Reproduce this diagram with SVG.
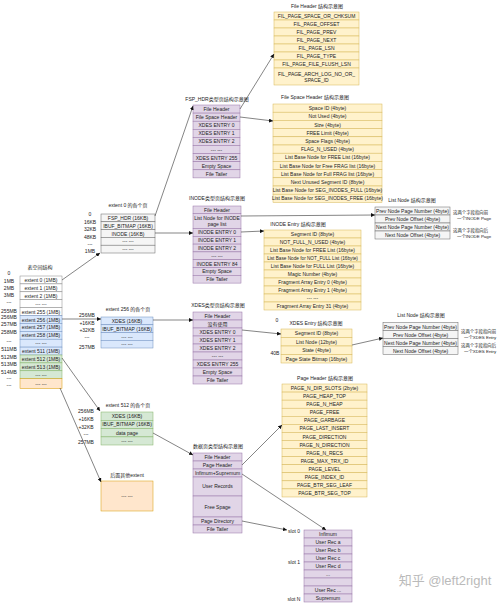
<svg xmlns="http://www.w3.org/2000/svg" width="500" height="604" viewBox="0 0 500 604">
<style>
text{font-family:"Liberation Sans","Noto Sans CJK SC",sans-serif;font-size:5px;fill:#222;text-anchor:middle;dominant-baseline:central}
.l{text-anchor:start;font-size:4.4px}
rect{stroke-width:0.5}
.y{fill:#fff2cc;stroke:#d6b656}
.p{fill:#e1d5e7;stroke:#9673a6}
.g{fill:#f5f5f5;stroke:#666}
.w{fill:#ffffff;stroke:#888}
.b{fill:#dae8fc;stroke:#6c8ebf}
.gr{fill:#d5e8d4;stroke:#82b366}
.o{fill:#ffe6cc;stroke:#d79b00}
.c path{fill:none;stroke:#333;stroke-width:0.6;marker-end:url(#a)}
</style>
<defs>
<marker id="a" viewBox="0 0 6 6" refX="6" refY="3" markerWidth="4" markerHeight="4" orient="auto" markerUnits="userSpaceOnUse"><path d="M0,0 L6,3 L0,6 z" fill="#111"/></marker>
</defs>
<rect width="500" height="604" fill="#ffffff"/>

<g id="file-header">
<text x="317" y="6">File Header 结构示意图</text>
<rect class="y" x="274" y="12" width="85" height="8"/><text x="316.5" y="16">FIL_PAGE_SPACE_OR_CHKSUM</text>
<rect class="y" x="274" y="20" width="85" height="8"/><text x="316.5" y="24">FIL_PAGE_OFFSET</text>
<rect class="y" x="274" y="28" width="85" height="8"/><text x="316.5" y="32">FIL_PAGE_PREV</text>
<rect class="y" x="274" y="36" width="85" height="8"/><text x="316.5" y="40">FIL_PAGE_NEXT</text>
<rect class="y" x="274" y="44" width="85" height="8"/><text x="316.5" y="48">FIL_PAGE_LSN</text>
<rect class="y" x="274" y="52" width="85" height="8"/><text x="316.5" y="56">FIL_PAGE_TYPE</text>
<rect class="y" x="274" y="60" width="85" height="8"/><text x="316.5" y="64">FIL_PAGE_FILE_FLUSH_LSN</text>
<rect class="y" x="274" y="68" width="85" height="17"/><text x="316.5" y="73.5">FIL_PAGE_ARCH_LOG_NO_OR_</text><text x="316.5" y="79.5">SPACE_ID</text>
</g>

<g id="file-space-header">
<text x="315" y="97">File Space Header 结构示意图</text>
<rect class="y" x="273" y="104" width="109" height="8.2"/><text x="327.5" y="108.1">Space ID (4byte)</text>
<rect class="y" x="273" y="112.2" width="109" height="8.2"/><text x="327.5" y="116.3">Not Used (4byte)</text>
<rect class="y" x="273" y="120.4" width="109" height="8.2"/><text x="327.5" y="124.5">Size (4byte)</text>
<rect class="y" x="273" y="128.6" width="109" height="8.2"/><text x="327.5" y="132.7">FREE Limit (4byte)</text>
<rect class="y" x="273" y="136.8" width="109" height="8.2"/><text x="327.5" y="140.9">Space Flags (4byte)</text>
<rect class="y" x="273" y="145" width="109" height="8.2"/><text x="327.5" y="149.1">FLAG_N_USED (4byte)</text>
<rect class="y" x="273" y="153.2" width="109" height="8.2"/><text x="327.5" y="157.3">List Base Node for FREE List (16byte)</text>
<rect class="y" x="273" y="161.4" width="109" height="8.2"/><text x="327.5" y="165.5">List Base Node for Free FRAG list (16byte)</text>
<rect class="y" x="273" y="169.6" width="109" height="8.2"/><text x="327.5" y="173.7">List Base Node for Full FRAG list (16byte)</text>
<rect class="y" x="273" y="177.8" width="109" height="8.2"/><text x="327.5" y="181.9">Next Unused Segment ID (8byte)</text>
<rect class="y" x="273" y="186" width="109" height="8.2"/><text x="327.5" y="190.1">List Base Node for SEG_INODES_FULL (16byte)</text>
<rect class="y" x="273" y="194.2" width="109" height="8.2"/><text x="327.5" y="198.3">List Base Node for SEG_INODES_FREE (16byte)</text>
</g>

<g id="fsp-hdr-page">
<text x="217" y="99">FSP_HDR类型页结构示意图</text>
<rect class="p" x="193" y="105" width="47" height="8.1"/><text x="216.5" y="109.05">File  Header</text>
<rect class="p" x="193" y="113.1" width="47" height="8.1"/><text x="216.5" y="117.15">File Space Header</text>
<rect class="p" x="193" y="121.2" width="47" height="8.1"/><text x="216.5" y="125.25">XDES ENTRY 0</text>
<rect class="p" x="193" y="129.3" width="47" height="8.1"/><text x="216.5" y="133.35">XDES ENTRY 1</text>
<rect class="p" x="193" y="137.4" width="47" height="8.1"/><text x="216.5" y="141.45">XDES ENTRY 2</text>
<rect class="p" x="193" y="145.5" width="47" height="8.1"/><text x="216.5" y="149.55">--- ---</text>
<rect class="p" x="193" y="153.6" width="47" height="8.1"/><text x="216.5" y="157.65">XDES ENTRY 255</text>
<rect class="p" x="193" y="161.7" width="47" height="8.1"/><text x="216.5" y="165.75">Empty Space</text>
<rect class="p" x="193" y="169.8" width="47" height="8.1"/><text x="216.5" y="173.85">File  Tailer</text>
</g>

<g id="inode-page">
<text x="217" y="198">INODE类型页结构示意图</text>
<rect class="p" x="193" y="206" width="48" height="7.5"/><text x="217" y="209.75">File  Header</text>
<rect class="p" x="193" y="213.5" width="48" height="15"/><text x="217" y="218">List Node for INODE</text><text x="217" y="224">page list</text>
<rect class="p" x="193" y="228.5" width="48" height="7.8"/><text x="217" y="232.4">INODE ENTRY 0</text>
<rect class="p" x="193" y="236.3" width="48" height="7.8"/><text x="217" y="240.2">INODE ENTRY 1</text>
<rect class="p" x="193" y="244.1" width="48" height="7.8"/><text x="217" y="248">INODE ENTRY 2</text>
<rect class="p" x="193" y="251.9" width="48" height="7.8"/><text x="217" y="255.8">--- ---</text>
<rect class="p" x="193" y="259.7" width="48" height="7.8"/><text x="217" y="263.6">INODE ENTRY 84</text>
<rect class="p" x="193" y="267.5" width="48" height="7.8"/><text x="217" y="271.4">Empty Space</text>
<rect class="p" x="193" y="275.3" width="48" height="7.8"/><text x="217" y="279.2">File  Tailer</text>
</g>

<g id="inode-entry">
<text x="298" y="224">INODE Entry 结构示意图</text>
<rect class="y" x="264" y="230" width="97" height="8"/><text x="312.5" y="234">Segment ID (8byte)</text>
<rect class="y" x="264" y="238" width="97" height="8"/><text x="312.5" y="242">NOT_FULL_N_USED (4byte)</text>
<rect class="y" x="264" y="246" width="97" height="8"/><text x="312.5" y="250">List Base Node for FREE List (16byte)</text>
<rect class="y" x="264" y="254" width="97" height="8"/><text x="312.5" y="258" style="font-size:4.7px">List Base Node for NOT_FULL List (16byte)</text>
<rect class="y" x="264" y="262" width="97" height="8"/><text x="312.5" y="266">List Base Node for FULL List (16byte)</text>
<rect class="y" x="264" y="270" width="97" height="8"/><text x="312.5" y="274">Magic Number (4byte)</text>
<rect class="y" x="264" y="278" width="97" height="8"/><text x="312.5" y="282">Fragment Array Entry 0 (4byte)</text>
<rect class="y" x="264" y="286" width="97" height="8"/><text x="312.5" y="290">Fragment Array Entry 1 (4byte)</text>
<rect class="y" x="264" y="294" width="97" height="8"/><text x="312.5" y="298">--- ---</text>
<rect class="y" x="264" y="302" width="97" height="8"/><text x="312.5" y="306">Fragment Array Entry 31 (4byte)</text>
</g>

<g id="inode-list-node">
<text x="412" y="200">List Node 结构示意图</text>
<rect class="g" x="375" y="207" width="75" height="8"/><text x="412.5" y="211">Prev Node Page Number (4byte)</text>
<rect class="g" x="375" y="215" width="75" height="8"/><text x="412.5" y="219">Prev Node Offset (4byte)</text>
<rect class="g" x="375" y="223" width="75" height="8"/><text x="412.5" y="227">Next Node Page Number (4byte)</text>
<rect class="g" x="375" y="231" width="75" height="8"/><text x="412.5" y="235">Next Node Offset (4byte)</text>
<text class="l" x="453" y="212">这两个字段指向前</text><text class="l" x="457" y="218">一个INODE Page</text>
<text class="l" x="453" y="230">这两个字段指向后</text><text class="l" x="457" y="236">一个INODE Page</text>
</g>

<g id="extent0-pages">
<text x="128" y="205">extent 0 的各个页</text>
<rect class="g" x="101" y="214" width="54" height="7.8"/><text x="128" y="217.9">FSP_HDR (16KB)</text>
<rect class="g" x="101" y="221.8" width="54" height="7.8"/><text x="128" y="225.7">IBUF_BITMAP (16KB)</text>
<rect class="g" x="101" y="229.6" width="54" height="7.8"/><text x="128" y="233.5">INODE (16KB)</text>
<rect class="g" x="101" y="237.4" width="54" height="7.8"/><text x="128" y="241.3">--- ---</text>
<rect class="g" x="101" y="245.2" width="54" height="7.8"/><text x="128" y="249.1">--- ---</text>
<text x="90" y="214">0</text><text x="90" y="222">16KB</text><text x="90" y="229">32KB</text><text x="90" y="237">48KB</text><text x="90" y="244">---</text><text x="90" y="251">1MB</text>
</g>

<g id="tablespace">
<text x="40" y="267">表空间结构</text>
<rect class="w" x="20" y="276" width="42" height="7.9"/><text x="41" y="280">extent 0 (1MB)</text>
<rect class="w" x="20" y="283.9" width="42" height="7.9"/><text x="41" y="287.9">extent 1 (1MB)</text>
<rect class="w" x="20" y="291.8" width="42" height="7.9"/><text x="41" y="295.8">extent 2 (1MB)</text>
<rect class="w" x="20" y="299.7" width="42" height="7.9"/><text x="41" y="303.7">--- ---</text>
<rect class="w" x="20" y="307.6" width="42" height="7.9"/><text x="41" y="311.6">extent 255 (1MB)</text>
<rect class="b" x="20" y="315.5" width="42" height="7.9"/><text x="41" y="319.5">extent 256 (1MB)</text>
<rect class="b" x="20" y="323.4" width="42" height="7.9"/><text x="41" y="327.4">extent 257 (1MB)</text>
<rect class="b" x="20" y="331.3" width="42" height="7.9"/><text x="41" y="335.3">extent 258 (1MB)</text>
<rect class="b" x="20" y="339.2" width="42" height="7.9"/><text x="41" y="343.2">--- ---</text>
<rect class="b" x="20" y="347.1" width="42" height="7.9"/><text x="41" y="351.1">extent 511 (1MB)</text>
<rect class="gr" x="20" y="355" width="42" height="7.9"/><text x="41" y="359">extent 512 (1MB)</text>
<rect class="gr" x="20" y="362.9" width="42" height="7.9"/><text x="41" y="366.9">extent 513 (1MB)</text>
<rect class="gr" x="20" y="370.8" width="42" height="7.9"/><text x="41" y="374.8">--- ---</text>
<rect class="o" x="20" y="378.7" width="42" height="10"/><text x="41" y="383.7">--- ---</text>
<text x="9" y="273">0</text><text x="9" y="281">1MB</text><text x="9" y="288">2MB</text><text x="9" y="295">3MB</text><text x="9" y="302">---</text>
<text x="9" y="311">255MB</text><text x="9" y="317">256MB</text><text x="9" y="324">257MB</text><text x="9" y="332">258MB</text><text x="9" y="341">---</text>
<text x="9" y="349">511MB</text><text x="9" y="357">512MB</text><text x="9" y="364">513MB</text><text x="9" y="372">514MB</text><text x="9" y="378">---</text><text x="9" y="385">---</text>
</g>

<g id="extent256-pages">
<text x="128" y="309">extent 256 的各个页</text>
<rect class="b" x="101" y="317" width="52" height="7.8"/><text x="127" y="320.9">XDES (16KB)</text>
<rect class="b" x="101" y="324.8" width="52" height="7.8"/><text x="127" y="328.7">IBUF_BITMAP (16KB)</text>
<rect class="b" x="101" y="332.6" width="52" height="7.7"/><text x="127" y="336.5">--- ---</text>
<rect class="b" x="101" y="340.3" width="52" height="7.7"/><text x="127" y="344.2">--- ---</text>
<text x="87" y="315">256MB</text><text x="87" y="323">+16KB</text><text x="87" y="330">+32KB</text><text x="87" y="337">---</text><text x="87" y="347">257MB</text>
</g>

<g id="xdes-page">
<text x="218" y="305">XDES类型页结构示意图</text>
<rect class="p" x="193" y="312" width="49" height="8"/><text x="217.5" y="316">File  Header</text>
<rect class="p" x="193" y="320" width="49" height="8"/><text x="217.5" y="324">没有使用</text>
<rect class="p" x="193" y="328" width="49" height="8"/><text x="217.5" y="332">XDES ENTRY 0</text>
<rect class="p" x="193" y="336" width="49" height="8"/><text x="217.5" y="340">XDES ENTRY 1</text>
<rect class="p" x="193" y="344" width="49" height="8"/><text x="217.5" y="348">XDES ENTRY 2</text>
<rect class="p" x="193" y="352" width="49" height="8"/><text x="217.5" y="356">--- ---</text>
<rect class="p" x="193" y="360" width="49" height="8"/><text x="217.5" y="364">XDES ENTRY 255</text>
<rect class="p" x="193" y="368" width="49" height="8"/><text x="217.5" y="372">Empty Space</text>
<rect class="p" x="193" y="376" width="49" height="8"/><text x="217.5" y="380">File  Tailer</text>
</g>

<g id="xdes-entry">
<text x="316" y="323">XDES Entry 结构示意图</text>
<rect class="y" x="281" y="329" width="71" height="8.5"/><text x="316.5" y="333.25">Segment ID (8byte)</text>
<rect class="y" x="281" y="337.5" width="71" height="8.5"/><text x="316.5" y="341.75">List  Node  (12byte)</text>
<rect class="y" x="281" y="346" width="71" height="8.5"/><text x="316.5" y="350.25">State (4byte)</text>
<rect class="y" x="281" y="354.5" width="71" height="8.5"/><text x="316.5" y="358.75">Page State Bitmap (16byte)</text>
<text x="277" y="320">0</text><text x="275" y="353">40B</text>
</g>

<g id="xdes-list-node">
<text x="421" y="315">List Node 结构示意图</text>
<rect class="g" x="383" y="322.5" width="75" height="8"/><text x="420.5" y="326.5">Prev Node Page Number (4byte)</text>
<rect class="g" x="383" y="330.5" width="75" height="8"/><text x="420.5" y="334.5">Prev Node Offset (4byte)</text>
<rect class="g" x="383" y="338.5" width="75" height="8"/><text x="420.5" y="342.5">Next Node Page Number (4byte)</text>
<rect class="g" x="383" y="346.5" width="75" height="8"/><text x="420.5" y="350.5">Next Node Offset (4byte)</text>
<text class="l" x="461" y="331">这两个字段指向前</text><text class="l" x="464" y="337">一个XDES Entry</text>
<text class="l" x="461" y="345">这两个字段指向后</text><text class="l" x="464" y="351">一个XDES Entry</text>
</g>

<g id="extent512-pages">
<text x="128" y="405">extent 512 的各个页</text>
<rect class="gr" x="101" y="412" width="52" height="8.3"/><text x="127" y="416.15">XDES (16KB)</text>
<rect class="gr" x="101" y="420.3" width="52" height="8.3"/><text x="127" y="424.45">IBUF_BITMAP (16KB)</text>
<rect class="gr" x="101" y="428.6" width="52" height="8.3"/><text x="127" y="432.75">data page</text>
<rect class="gr" x="101" y="436.9" width="52" height="8.1"/><text x="127" y="440.95">--- ---</text>
<text x="86" y="411">256MB</text><text x="86" y="419">+16KB</text><text x="86" y="427">+32KB</text><text x="86" y="434">---</text><text x="86" y="442">257MB</text>
</g>

<g id="other-extents">
<text x="127" y="475">后面其他extent</text>
<rect class="o" x="101" y="481" width="52" height="30"/><text x="127" y="496">--- ---</text>
</g>

<g id="index-page">
<text x="218" y="446">数据页类型结构示意图</text>
<rect class="p" x="193" y="453" width="49" height="8"/><text x="217.5" y="457">File  Header</text>
<rect class="p" x="193" y="461" width="49" height="8"/><text x="217.5" y="465">Page Header</text>
<rect class="p" x="193" y="469" width="49" height="8"/><text x="217.5" y="473">Infimum+Supremum</text>
<rect class="p" x="193" y="477" width="49" height="19"/><text x="217.5" y="486">User Records</text>
<rect class="p" x="193" y="496" width="49" height="21"/><text x="217.5" y="506.5">Free Spage</text>
<rect class="p" x="193" y="517" width="49" height="8"/><text x="217.5" y="521">Page Directory</text>
<rect class="p" x="193" y="525" width="49" height="8"/><text x="217.5" y="529">File  Tailer</text>
</g>

<g id="page-header">
<text x="325" y="378">Page Header 结构示意图</text>
<rect class="y" x="282" y="384" width="85" height="8.07"/><text x="324.5" y="388">PAGE_N_DIR_SLOTS (2byte)</text>
<rect class="y" x="282" y="392.07" width="85" height="8.07"/><text x="324.5" y="396.1">PAGE_HEAP_TOP</text>
<rect class="y" x="282" y="400.14" width="85" height="8.07"/><text x="324.5" y="404.2">PAGE_N_HEAP</text>
<rect class="y" x="282" y="408.21" width="85" height="8.07"/><text x="324.5" y="412.2">PAGE_FREE</text>
<rect class="y" x="282" y="416.28" width="85" height="8.07"/><text x="324.5" y="420.3">PAGE_GARBAGE</text>
<rect class="y" x="282" y="424.35" width="85" height="8.07"/><text x="324.5" y="428.4">PAGE_LAST_INSERT</text>
<rect class="y" x="282" y="432.42" width="85" height="8.07"/><text x="324.5" y="436.5">PAGE_DIRECTION</text>
<rect class="y" x="282" y="440.49" width="85" height="8.07"/><text x="324.5" y="444.5">PAGE_N_DIRECTION</text>
<rect class="y" x="282" y="448.56" width="85" height="8.07"/><text x="324.5" y="452.6">PAGE_N_RECS</text>
<rect class="y" x="282" y="456.63" width="85" height="8.07"/><text x="324.5" y="460.7">PAGE_MAX_TRX_ID</text>
<rect class="y" x="282" y="464.7" width="85" height="8.07"/><text x="324.5" y="468.7">PAGE_LEVEL</text>
<rect class="y" x="282" y="472.77" width="85" height="8.07"/><text x="324.5" y="476.8">PAGE_INDEX_ID</text>
<rect class="y" x="282" y="480.84" width="85" height="8.07"/><text x="324.5" y="484.9">PAGE_BTR_SEG_LEAF</text>
<rect class="y" x="282" y="488.91" width="85" height="8.07"/><text x="324.5" y="492.9">PAGE_BTR_SEG_TOP</text>
</g>

<g id="user-records">
<rect class="p" x="304" y="530" width="48" height="8"/><text x="328" y="534">Infimum</text>
<rect class="p" x="304" y="538" width="48" height="8"/><text x="328" y="542">User Rec a</text>
<rect class="p" x="304" y="546" width="48" height="8"/><text x="328" y="550">User Rec b</text>
<rect class="p" x="304" y="554" width="48" height="8"/><text x="328" y="558">User Rec c</text>
<rect class="p" x="304" y="562" width="48" height="8"/><text x="328" y="566">User Rec d</text>
<rect class="p" x="304" y="570" width="48" height="8"/><text x="328" y="574">...</text>
<rect class="p" x="304" y="578" width="48" height="8"/>
<rect class="p" x="304" y="586" width="48" height="8"/><text x="328" y="590">User Rec ...</text>
<rect class="p" x="304" y="594" width="48" height="8"/><text x="328" y="598">Supremum</text>
<text x="294" y="531">slot 0</text><text x="294" y="562">slot 1</text><text x="294" y="599">slot N</text>
</g>

<g class="c" id="connectors">
<path d="M62,280 L100,253"/>
<path d="M155,216 L193,106"/>
<path d="M155,233 L193,233"/>
<path d="M240,109 L274,54"/>
<path d="M240,117 L273,121"/>
<path d="M241,216 L375,215"/>
<path d="M241,232 L264,231"/>
<path d="M62,319 L101,319"/>
<path d="M153,320 L193,320"/>
<path d="M242,330 L281,334"/>
<path d="M352,345 L383,338"/>
<path d="M62,358 L100,411"/>
<path d="M60,388 L101,482"/>
<path d="M153,433 L193,455"/>
<path d="M242,465 L282,425"/>
<path d="M242,474 L326,530"/>
<path d="M242,521 L287,530"/>
</g>

<text x="445" y="580" style="font-size:13px;fill:#aaaaaa;opacity:0.8">知乎 @left2right</text>
</svg>
